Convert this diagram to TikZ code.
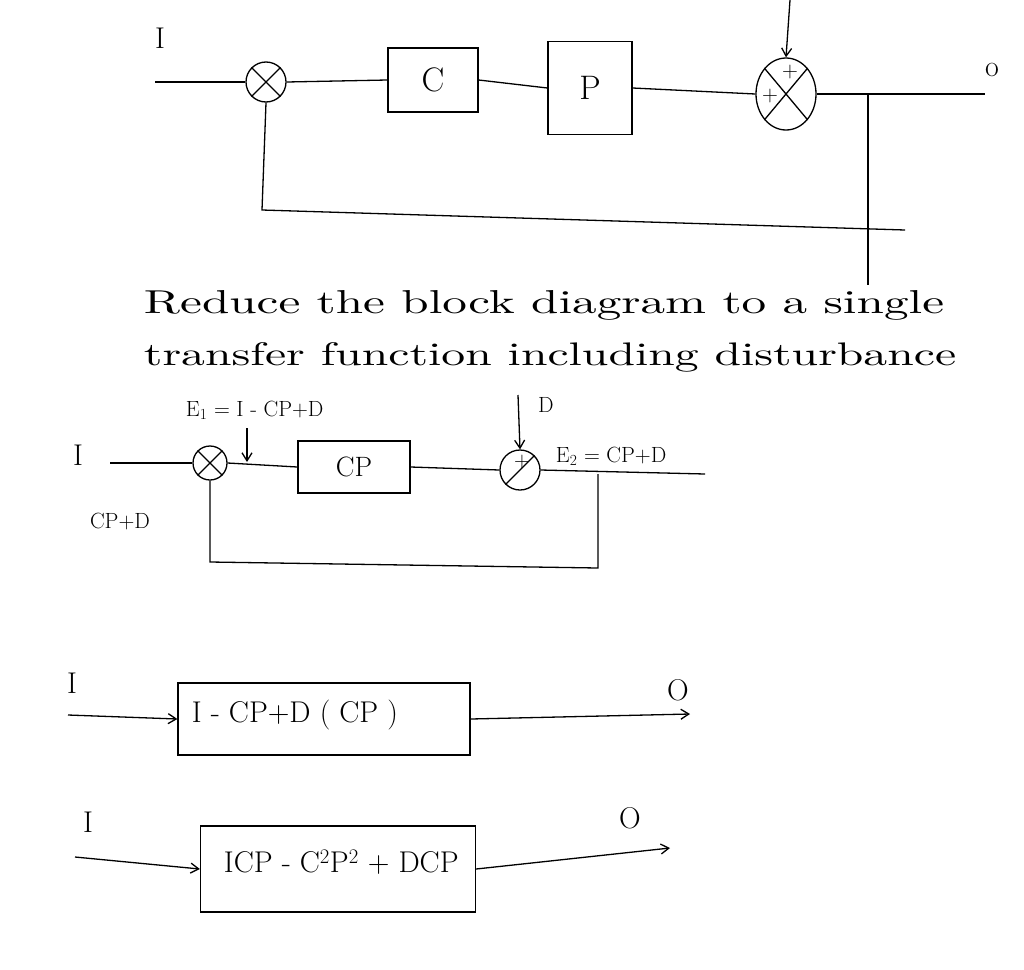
\documentclass[tikz,border=0pt]{standalone}
\usepackage{fontspec}
\usetikzlibrary{shapes.geometric,arrows.meta}
\begin{document}
\begin{tikzpicture}[x=1pt,y=-1pt,line width=1.3pt,
  blk/.style={draw,minimum width=#1,minimum height=64pt,inner sep=0pt},
  sumj/.style={draw,ellipse,minimum width=#1,minimum height=#1,inner sep=0pt},
  txt/.style={font=\fontsize{30}{32}\selectfont},
  small/.style={font=\fontsize{22}{24}\selectfont},
  arr/.style={-{Straight Barb[length=8pt,width=10pt]}}]
\useasboundingbox (0,0) rectangle (1024,969);
% top diagram
\node[txt] (tI) at (160,38) {I};
\coordinate (in1) at (155,82);
\node[sumj=40pt] (s1) at (266,82) {};
\draw (s1.north east) -- (s1.south west) (s1.north west) -- (s1.south east);
\node[blk=90pt,minimum height=64pt] (C) at (433,80) {\fontsize{34}{36}\selectfont C};
\node[blk=84pt,minimum height=93pt] (P) at (590,88) {\fontsize{34}{36}\selectfont P};
\node[draw,ellipse,minimum width=60pt,minimum height=72pt,inner sep=0pt] (s2) at (786,94) {};
\draw (s2.north east) -- (s2.south west) (s2.north west) -- (s2.south east);
\node[small] at (770,96) {+};
\node[small] at (790,72) {+};
\coordinate (dtop) at (790,0);
\coordinate (out1) at (985,94);
\node[txt] (tO) at (992,70) {o};
\draw (in1) -- (s1.west);
\draw (s1.east) -- (C.west);
\draw (C.east) -- (P.west);
\draw (P.east) -- (s2.west);
\draw[arr] (dtop) -- (s2.north);
\draw (s2.east) -- (out1);
\coordinate (br1) at (868,94);
\coordinate (br1b) at (868,285);
\draw (br1) -- (br1b);
\coordinate (fb1a) at (262,210);
\coordinate (fb1b) at (905,230);
\draw (s1.south) -- (fb1a) -- (fb1b);
% text
\node[anchor=west] (l1) at (140,305) {\resizebox{800pt}{23pt}{Reduce the block diagram to a single}};
\node[anchor=west] (l2) at (140,357) {\resizebox{812pt}{23pt}{transfer function including disturbance}};
% middle
\node[txt] (mI) at (78,455) {I};
\coordinate (min) at (110,463);
\node[sumj=34pt] (s3) at (210,463) {};
\draw (s3.north east) -- (s3.south west) (s3.north west) -- (s3.south east);
\node[blk=112pt,minimum height=52pt] (CP) at (354,467) {\fontsize{28}{30}\selectfont CP};
\node[sumj=40pt] (s4) at (520,470) {};
\draw (s4.north east) -- (s4.south west);
\node[small] at (522,462) {+};
\coordinate (mout) at (705,474);
\draw (min) -- (s3.west);
\draw (s3.east) -- (CP.west);
\draw (CP.east) -- (s4.west);
\draw (s4.east) -- (mout);
\coordinate (e1a) at (247,428);
\coordinate (e1b) at (247,462);
\draw[arr] (e1a) -- (e1b);
\node[small,anchor=west] (E1) at (182,410) {E\textsubscript{1} = I - CP+D};
\coordinate (da) at (518,395);
\draw[arr] (da) -- (s4.north);
\node[small] (mD) at (546,405) {D};
\node[small,anchor=west] (E2) at (552,456) {E\textsubscript{2} = CP+D};
\coordinate (fb2a) at (598,474);
\coordinate (fb2b) at (598,568);
\coordinate (fb2c) at (210,562);
\draw (fb2a) -- (fb2b) -- (fb2c) -- (s3.south);
\node[small] (cpd) at (120,522) {CP+D};
% bottom 1
\node[txt] (b1I) at (72,683) {I};
\coordinate (b1in) at (68,715);
\node[blk=292pt,minimum height=72pt] (B1) at (324,719) {};
\node[txt,anchor=west] at (188,715) {I - CP+D ( CP )};
\coordinate (b1out) at (690,714);
\draw[arr] (b1in) -- (B1.west);
\draw[arr] (B1.east) -- (b1out);
\node[txt] (b1O) at (678,690) {O};
% bottom 2
\node[txt] (b2I) at (88,822) {I};
\coordinate (b2in) at (75,857);
\node[blk=275pt,minimum height=86pt] (B2) at (338,869) {};
\node[txt,anchor=west] at (220,862) {ICP - C$^2$P$^2$ + DCP};
\coordinate (b2out) at (670,848);
\draw[arr] (b2in) -- (B2.west);
\draw[arr] (B2.east) -- (b2out);
\node[txt] (b2O) at (630,818) {O};
\end{tikzpicture}
\end{document}
